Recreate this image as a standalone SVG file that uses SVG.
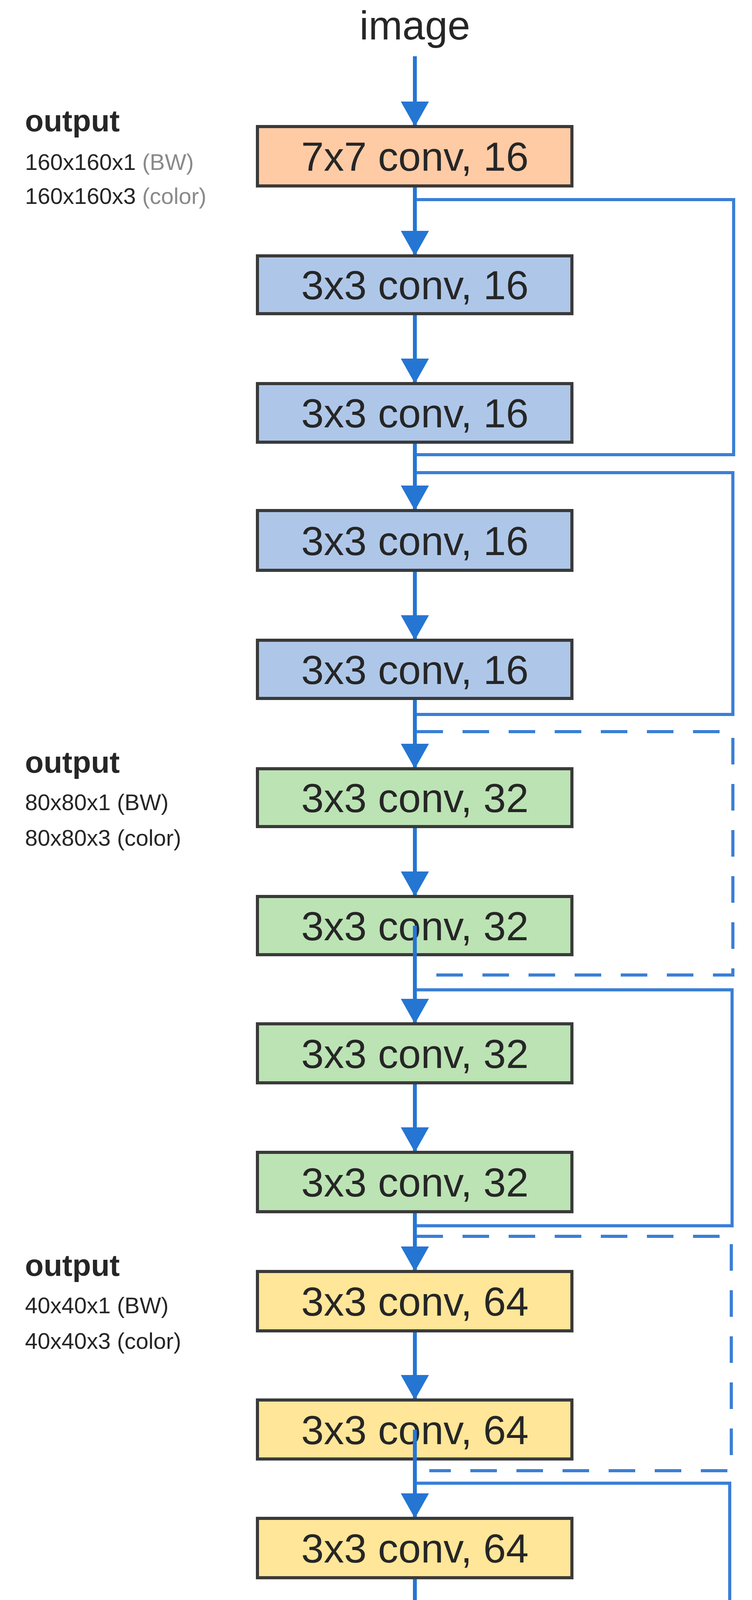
<svg xmlns="http://www.w3.org/2000/svg" width="1925" height="5043" viewBox="0 0 1925 5043">
<style>
.box{stroke:#3a3a3a;stroke-width:8}
.lbl{font-family:"Liberation Sans",Arial,sans-serif;font-size:104px;fill:#262626;text-anchor:middle}
.main{stroke:#2576d2;stroke-width:10;fill:none}
.skip{stroke:#3a7fd5;stroke-width:8;fill:none}
.dash{stroke:#3a7fd5;stroke-width:8;fill:none;stroke-dasharray:68 50}
.out{font-family:"Liberation Sans",Arial,sans-serif;font-size:78px;font-weight:bold;fill:#262626}
.dim{font-family:"Liberation Sans",Arial,sans-serif;font-size:58px;fill:#262626}
.gr{fill:#8a8a8a}
.or{fill:#ffcba5}.bl{fill:#aec7e9}.gn{fill:#bce3b4}.yl{fill:#ffe698}.wh{fill:#ffffff}
</style>
<defs>
<marker id="ah" viewBox="0 0 64 72" refX="64" refY="36" markerWidth="64" markerHeight="72" markerUnits="userSpaceOnUse" orient="auto">
<path d="M0,0 L64,36 L0,72 Z" fill="#2576d2"/>
</marker>
</defs>
<rect width="1925" height="5043" fill="#ffffff"/>
<g id="connectors">
<line class="main" x1="1062" y1="144" x2="1062" y2="324" marker-end="url(#ah)"/>
<line class="main" x1="1062" y1="476" x2="1062" y2="655" marker-end="url(#ah)"/>
<line class="main" x1="1062" y1="803" x2="1062" y2="982" marker-end="url(#ah)"/>
<line class="main" x1="1062" y1="1132" x2="1062" y2="1307" marker-end="url(#ah)"/>
<line class="main" x1="1062" y1="1460" x2="1062" y2="1639" marker-end="url(#ah)"/>
<line class="main" x1="1062" y1="1788" x2="1062" y2="1968" marker-end="url(#ah)"/>
<line class="main" x1="1062" y1="2116" x2="1062" y2="2295" marker-end="url(#ah)"/>
<line class="main" x1="1062" y1="2444" x2="1062" y2="2621" marker-end="url(#ah)"/>
<line class="main" x1="1062" y1="2772" x2="1062" y2="2950" marker-end="url(#ah)"/>
<line class="main" x1="1062" y1="3102" x2="1062" y2="3255" marker-end="url(#ah)"/>
<line class="main" x1="1062" y1="3407" x2="1062" y2="3584" marker-end="url(#ah)"/>
<line class="main" x1="1062" y1="3735" x2="1062" y2="3887" marker-end="url(#ah)"/>
<line class="main" x1="1062" y1="4039" x2="1062" y2="4194" marker-end="url(#ah)"/>
<line class="main" x1="1062" y1="4345" x2="1062" y2="4500"/>
<line class="main" x1="1062" y1="4648" x2="1062" y2="4804" marker-end="url(#ah)"/>
<polyline class="skip" points="1066,511 1878,511 1878,1164 1066,1164"/>
<polyline class="skip" points="1066,1210 1876,1210 1876,1829 1066,1829"/>
<polyline class="dash" points="1066,1873 1876,1873 1876,2496 1066,2496"/>
<polyline class="skip" points="1066,2534 1874,2534 1874,3138 1066,3138"/>
<polyline class="dash" points="1066,3165 1872,3165 1872,3765 1099,3765"/>
<polyline class="skip" points="1066,3797 1868,3797 1868,4394 1066,4394"/>
</g>
<g id="image"><text class="lbl" x="1062" y="101">image</text></g>
<g id="n0"><rect class="box or" x="659" y="324" width="805" height="152"/><text class="lbl" x="1062" y="437">7x7 conv, 16</text></g>
<g id="n1"><rect class="box bl" x="659" y="655" width="805" height="148"/><text class="lbl" x="1062" y="766">3x3 conv, 16</text></g>
<g id="n2"><rect class="box bl" x="659" y="982" width="805" height="150"/><text class="lbl" x="1062" y="1094">3x3 conv, 16</text></g>
<g id="n3"><rect class="box bl" x="659" y="1307" width="805" height="153"/><text class="lbl" x="1062" y="1421">3x3 conv, 16</text></g>
<g id="n4"><rect class="box bl" x="659" y="1639" width="805" height="149"/><text class="lbl" x="1062" y="1751">3x3 conv, 16</text></g>
<g id="n5"><rect class="box gn" x="659" y="1968" width="805" height="148"/><text class="lbl" x="1062" y="2079">3x3 conv, 32</text></g>
<g id="n6"><rect class="box gn" x="659" y="2295" width="805" height="149"/><text class="lbl" x="1062" y="2407">3x3 conv, 32</text><line class="main" x1="1062" y1="2370" x2="1062" y2="2450"/></g>
<g id="n7"><rect class="box gn" x="659" y="2621" width="805" height="151"/><text class="lbl" x="1062" y="2734">3x3 conv, 32</text></g>
<g id="n8"><rect class="box gn" x="659" y="2950" width="805" height="152"/><text class="lbl" x="1062" y="3063">3x3 conv, 32</text></g>
<g id="n9"><rect class="box yl" x="659" y="3255" width="805" height="152"/><text class="lbl" x="1062" y="3368">3x3 conv, 64</text></g>
<g id="n10"><rect class="box yl" x="659" y="3584" width="805" height="151"/><text class="lbl" x="1062" y="3697">3x3 conv, 64</text><line class="main" x1="1062" y1="3660" x2="1062" y2="3740"/></g>
<g id="n11"><rect class="box yl" x="659" y="3887" width="805" height="152"/><text class="lbl" x="1062" y="4000">3x3 conv, 64</text></g>
<g id="n12"><rect class="box yl" x="659" y="4194" width="805" height="151"/><text class="lbl" x="1062" y="4307">3x3 conv, 64</text><line class="main" x1="1062" y1="4270" x2="1062" y2="4350"/></g>
<g id="avgpool"><text class="lbl" x="1062" y="4609">avg pool</text></g>
<g id="fc"><rect class="box wh" x="659" y="4804" width="805" height="152"/><text class="lbl" x="1062" y="4917">fcFinal</text></g>
<g id="out1"><text class="out" x="64" y="336">output</text><text class="dim" x="64" y="435">160x160x1 <tspan class="gr">(BW)</tspan></text><text class="dim" x="64" y="522">160x160x3 <tspan class="gr">(color)</tspan></text></g>
<g id="out2"><text class="out" x="64" y="1978">output</text><text class="dim" x="64" y="2074">80x80x1 (BW)</text><text class="dim" x="64" y="2165">80x80x3 (color)</text></g>
<g id="out3"><text class="out" x="64" y="3266">output</text><text class="dim" x="64" y="3362">40x40x1 (BW)</text><text class="dim" x="64" y="3453">40x40x3 (color)</text></g>
<g id="out4"><text class="out" x="64" y="4821">output</text><text class="dim" x="64" y="4920">1x1x11 <tspan class="gr">(BW)</tspan></text><text class="dim" x="64" y="5010">1x1x8 <tspan class="gr">(color)</tspan></text></g>
</svg>
